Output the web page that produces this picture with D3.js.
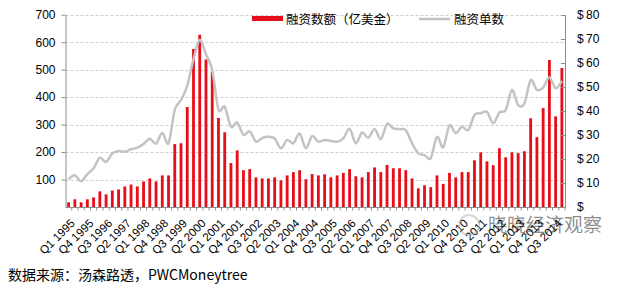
<!DOCTYPE html>
<html>
<head>
    <meta charset="utf-8">
    <title>融资数额与融资单数</title>
    <script src="https://d3js.org/d3.v7.min.js"></script>
    <style>
        body { margin: 0; background: #fff; }
        text { font-family: "Liberation Sans", Arial, sans-serif; fill: #000; }
        .cjk { font-family: "Noto Sans CJK SC", sans-serif; }
    </style>
</head>
<body>
    <svg width="636" height="291"></svg>
    <script>
        // quarters Q1 1995 .. Q4 2014
        var years = [1995, 1996, 1997, 1998, 1999, 2000, 2001, 2002, 2003, 2004,
                     2005, 2006, 2007, 2008, 2009, 2010, 2011, 2012, 2013, 2014];
        var quarterNames = ["Q1", "Q2", "Q3", "Q4"];

        // 融资数额（亿美金）, left axis
        var amounts = [17, 28, 17, 28, 35, 57, 46, 60, 64, 75,
                       82, 75, 93, 104, 93, 115, 115, 229, 232, 364,
                       575, 627, 537, 492, 324, 272, 160, 206, 134, 138,
                       108, 104, 104, 108, 97, 115, 127, 134, 101, 120,
                       115, 119, 108, 115, 124, 138, 112, 108, 127, 144,
                       127, 153, 141, 141, 134, 104, 68, 79, 72, 115,
                       84, 124, 108, 127, 127, 170, 199, 166, 152, 214,
                       181, 199, 196, 203, 323, 254, 360, 535, 330, 506];

        // 融资单数, right axis
        var deals = [11.5, 13.2, 10.7, 13.7, 16.1, 20.5, 18.7, 22.3, 23.3, 23.0,
                     24.0, 24.7, 26.2, 28.4, 26.3, 30.9, 26.5, 40.5, 44.5, 50.5,
                     61.5, 69.5, 63.5, 57, 40.5, 41.7, 33.4, 35.2, 30, 31.5,
                     27.2, 28.7, 29.2, 28.5, 24.4, 27.9, 26.5, 30.6, 24.4, 29.5,
                     27.2, 27.9, 27.5, 27.2, 28.6, 32.5, 26.5, 31, 28.8, 32.5,
                     28.2, 34.6, 32.7, 32.4, 32, 26.5, 22.3, 21.6, 20.3, 29.2,
                     24.8, 34, 30.7, 33.4, 32, 38.3, 39, 39.6, 34.8, 39.3,
                     40.3, 48.7, 42.4, 43.1, 52.8, 48.7, 49.7, 54, 49.4, 52.5];

        var leftTicks = [100, 200, 300, 400, 500, 600, 700];
        var rightTicks = [0, 10, 20, 30, 40, 50, 60, 70, 80];

        var quarters = [];
        years.forEach(function(y) {
            quarterNames.forEach(function(q) { quarters.push(q + " " + y); });
        });

        var svg = d3.select("svg");
        var plotLeft = 65.5, plotRight = 565, plotTop = 14.7, plotBottom = 207;

        var x = d3.scaleBand().domain(quarters).range([plotLeft, plotRight])
                  .paddingInner(0.55).paddingOuter(0.275);
        var yL = d3.scaleLinear().domain([0, 700]).range([plotBottom, plotTop]);
        var yR = d3.scaleLinear().domain([0, 80]).range([plotBottom, plotTop]);

        // dashed grid
        svg.append("g").selectAll("line")
           .data(leftTicks).enter().append("line")
           .attr("x1", plotLeft).attr("x2", plotRight)
           .attr("y1", function(d) { return Math.round(yL(d)) + 0.5; })
           .attr("y2", function(d) { return Math.round(yL(d)) + 0.5; })
           .attr("stroke", "#cfcfcf").attr("stroke-dasharray", "3,2");

        // bars
        svg.append("g").selectAll("rect")
           .data(amounts).enter().append("rect")
           .attr("x", function(d, i) { return x(quarters[i]); })
           .attr("width", x.bandwidth())
           .attr("y", function(d) { return yL(d); })
           .attr("height", function(d) { return plotBottom - yL(d); })
           .attr("fill", "#e60f19");

        // deal count line
        var line = d3.line()
            .x(function(d, i) { return x(quarters[i]) + x.bandwidth() / 2; })
            .y(function(d) { return yR(d); })
            .curve(d3.curveCardinal.tension(0.1));

        svg.append("path")
           .datum(deals)
           .attr("d", line)
           .attr("fill", "none")
           .attr("stroke", "#c3c3c3")
           .attr("stroke-width", 2.5);

        // left axis
        var gL = svg.append("g").attr("transform", "translate(" + plotLeft + ",0)")
            .call(d3.axisLeft(yL).tickValues(leftTicks).tickSize(4).tickSizeOuter(0));
        gL.select(".domain").attr("stroke", "#8c8c8c");
        gL.selectAll(".tick line").attr("stroke", "#8c8c8c");
        gL.selectAll(".tick text").attr("x", -10).style("font-size", "12px").attr("fill", "#111");

        // right axis
        var gR = svg.append("g").attr("transform", "translate(" + plotRight + ",0)")
            .call(d3.axisRight(yR).tickValues(rightTicks.slice(1)).tickSize(0).tickSizeOuter(0));
        gR.select(".domain").attr("stroke", "#8c8c8c");
        gR.selectAll(".tick text").attr("x", 21).style("font-size", "12px").attr("fill", "#111");
        gR.selectAll(".dollar").data(rightTicks).enter().append("text")
          .attr("class", "dollar")
          .attr("x", 12).attr("y", function(d) { return yR(d); })
          .attr("dy", "0.32em").style("font-size", "12px").attr("fill", "#111")
          .text("$");
        gR.selectAll(".rt").data(rightTicks).enter().append("line")
          .attr("class", "rt")
          .attr("x1", -4).attr("x2", 0)
          .attr("y1", function(d) { return Math.round(yR(d)) + 0.5; })
          .attr("y2", function(d) { return Math.round(yR(d)) + 0.5; })
          .attr("stroke", "#8c8c8c");

        // x axis
        var gX = svg.append("g").attr("transform", "translate(0," + plotBottom + ")");
        gX.append("line").attr("x1", plotLeft).attr("x2", plotRight)
          .attr("y1", 0.5).attr("y2", 0.5).attr("stroke", "#8c8c8c");
        gX.selectAll(".qt").data(quarters).enter().append("line")
          .attr("class", "qt")
          .attr("x1", function(d) { return x(d) + x.step() / 2 + x.bandwidth() / 2; })
          .attr("x2", function(d) { return x(d) + x.step() / 2 + x.bandwidth() / 2; })
          .attr("y1", 0).attr("y2", 3.5)
          .attr("stroke", "#8c8c8c");
        gX.selectAll(".ql").data(quarters.filter(function(d, i) { return i % 3 === 0; }))
          .enter().append("text")
          .attr("class", "ql")
          .attr("transform", function(d) {
              return "translate(" + (x(d) + x.bandwidth() / 2 + 4) + ",14) rotate(-45)";
          })
          .attr("text-anchor", "end")
          .attr("dy", "0.35em")
          .style("font-size", "11.5px")
          .text(function(d) { return d; });

        // legend
        var lg = svg.append("g");
        lg.append("rect").attr("x", 252).attr("y", 16).attr("width", 31).attr("height", 5)
          .attr("fill", "#e60f19");
        lg.append("text").attr("class", "cjk").attr("x", 286).attr("y", 23.5)
          .style("font-size", "12.5px").text("融资数额（亿美金）");
        lg.append("line").attr("x1", 419).attr("x2", 450).attr("y1", 19).attr("y2", 19)
          .attr("stroke", "#c3c3c3").attr("stroke-width", 2.5);
        lg.append("text").attr("class", "cjk").attr("x", 454).attr("y", 23.5)
          .style("font-size", "12.5px").text("融资单数");

        // watermark
        var wm = svg.append("g").attr("opacity", 0.45);
        wm.append("circle").attr("cx", 469).attr("cy", 225).attr("r", 10)
          .attr("fill", "none").attr("stroke", "#aaa").attr("stroke-width", 2);
        wm.append("text").attr("class", "cjk").attr("x", 488).attr("y", 232)
          .style("font-size", "19px").attr("fill", "#999").text("晓晓经济观察");

        // source
        svg.append("text").attr("class", "cjk").attr("x", 8).attr("y", 280)
           .style("font-size", "14px").attr("fill", "#333")
           .text("数据来源：汤森路透，PWCMoneytree");
    </script>
</body>
</html>
